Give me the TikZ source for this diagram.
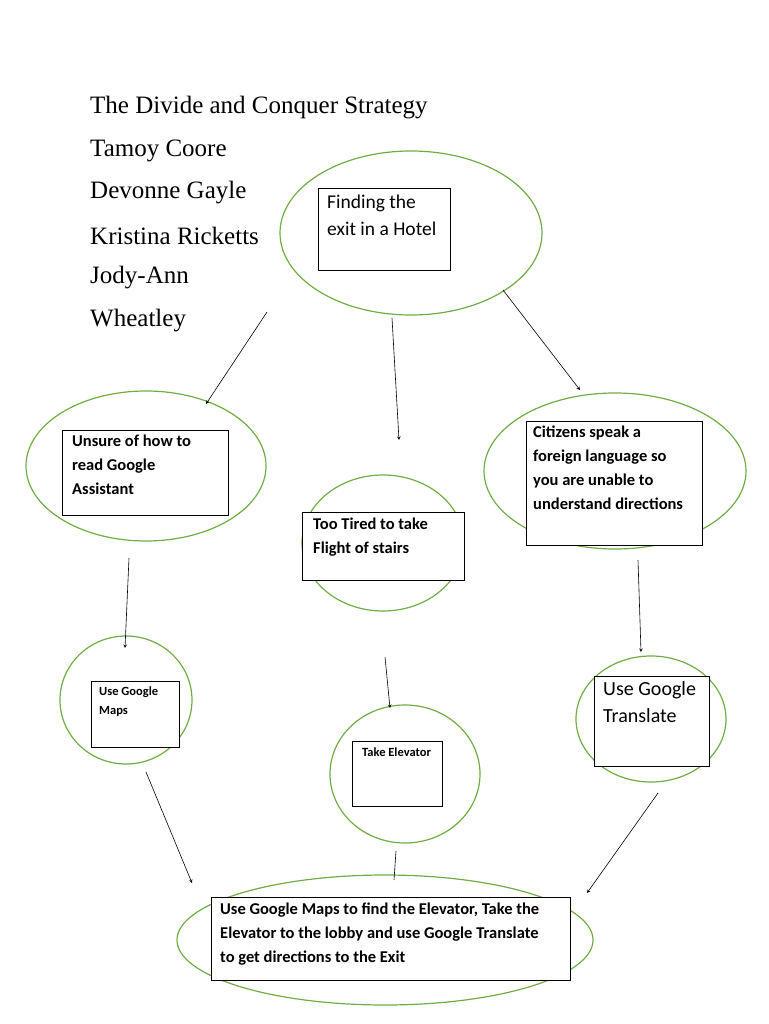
\documentclass[tikz,border=0pt]{standalone}
\usepackage{fontspec}
\setmainfont{Liberation Serif}
\newfontfamily\calfont{Carlito}
\definecolor{gr}{RGB}{112,173,71}
\begin{document}
\begin{tikzpicture}[x=1pt,y=-1pt]
\useasboundingbox (0,0) rectangle (768,1024);
\foreach \t/\y in {The Divide and Conquer Strategy/108,Tamoy Coore/151,Devonne Gayle/193,Kristina Ricketts/236,Jody-Ann/278,Wheatley/321}
 \node[anchor=west,font=\fontsize{25}{28}\selectfont,inner sep=0pt] at (90,\y) {\t};
% ellipses
\draw[gr,line width=1.2pt] (411,233) ellipse (131 and 82);
\draw[gr,line width=1.2pt] (146,466) ellipse (120 and 75);
\draw[gr,line width=1.2pt] (383,543) ellipse (81 and 68);
\draw[gr,line width=1.2pt] (615,471) ellipse (131 and 78);
\draw[gr,line width=1.2pt] (126,700) ellipse (66 and 64);
\draw[gr,line width=1.2pt] (405,774) ellipse (75 and 69);
\draw[gr,line width=1.2pt] (651,719) ellipse (75 and 63);
\draw[gr,line width=1.2pt] (385,940) ellipse (208 and 65);
% boxes
\draw[fill=white,line width=0.8pt] (318,188) rectangle (450,270);
\node[anchor=north west,align=left,font=\calfont\fontsize{19.5}{27}\selectfont,inner sep=0pt] (a) at (327,195) {Finding the\\exit in a Hotel};
\draw[fill=white,line width=0.8pt] (62,430) rectangle (228,515);
\node[anchor=north west,align=left,font=\calfont\bfseries\fontsize{16.5}{24}\selectfont,inner sep=0pt] (b) at (72,435) {Unsure of how to\\read Google\\Assistant};
\draw[fill=white,line width=0.8pt] (302,512) rectangle (464,580);
\node[anchor=north west,align=left,font=\calfont\bfseries\fontsize{16.5}{24}\selectfont,inner sep=0pt] (c) at (313,518) {Too Tired to take\\Flight of stairs};
\draw[fill=white,line width=0.8pt] (526,421) rectangle (702,545);
\node[anchor=north west,align=left,font=\calfont\bfseries\fontsize{16.5}{24}\selectfont,inner sep=0pt] (d) at (533,426) {Citizens speak a\\foreign language so\\you are unable to\\understand directions};
\draw[fill=white,line width=0.8pt] (91,681) rectangle (179,747);
\node[anchor=north west,align=left,font=\calfont\bfseries\fontsize{12.5}{19}\selectfont,inner sep=0pt] (e) at (99,687) {Use Google\\Maps};
\draw[fill=white,line width=0.8pt] (352,741) rectangle (442,806);
\node[anchor=north west,align=left,font=\calfont\bfseries\fontsize{12.5}{19}\selectfont,inner sep=0pt] (f) at (362,748) {Take Elevator};
\draw[fill=white,line width=0.8pt] (594,676) rectangle (709,766);
\node[anchor=north west,align=left,font=\calfont\fontsize{20}{27}\selectfont,inner sep=0pt] (g) at (603,681) {Use Google\\Translate};
\draw[fill=white,line width=0.8pt] (211,897) rectangle (570,980);
\node[anchor=north west,align=left,font=\calfont\bfseries\fontsize{16.5}{24}\selectfont,inner sep=0pt] (h) at (220,903) {Use Google Maps to find the Elevator, Take the\\Elevator to the lobby and use Google Translate\\to get directions to the Exit};
% arrows
\coordinate (p1) at (267,312); \coordinate (q1) at (206,404);
\coordinate (p2) at (392,318); \coordinate (q2) at (399,440);
\coordinate (p3) at (503,290); \coordinate (q3) at (580,390);
\coordinate (p4) at (129,558); \coordinate (q4) at (125,648);
\coordinate (p5) at (385,657); \coordinate (q5) at (390,708);
\coordinate (p6) at (638,560); \coordinate (q6) at (641,652);
\coordinate (p7) at (146,772); \coordinate (q7) at (192,883);
\coordinate (p8) at (396,851); \coordinate (q8) at (394,880);
\coordinate (p9) at (658,793); \coordinate (q9) at (587,893);
\foreach \i in {1,...,7,9} \draw[-stealth,line width=0.6pt] (p\i) -- (q\i);
\draw[line width=0.6pt] (p8) -- (q8);
\end{tikzpicture}
\end{document}
